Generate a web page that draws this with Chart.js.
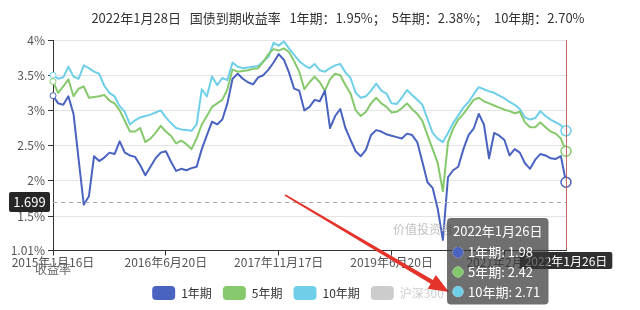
<!DOCTYPE html>
<html><head><meta charset="utf-8">
<script src="https://cdn.jsdelivr.net/npm/chart.js@4/dist/chart.umd.min.js"></script>
<style>html,body{margin:0;padding:0;background:#fff;}#wrap{width:640px;height:310px;position:relative;}</style>
</head><body><div id="wrap"><canvas id="c" width="640" height="310"></canvas></div>
<script>
const FONT = '"Noto Sans CJK SC", "Noto Sans", sans-serif';
const titleDate = '2022年1月28日';
const titleName = '国债到期收益率';
const seriesNames = ['1年期', '5年期', '10年期', '沪深300'];
const titleYields = [1.95, 2.38, 2.70];
const anchorDates = ['2015-01-16', '2016-06-20', '2017-11-17', '2019-06-20', '2021-02-08', '2022-01-26'];
const anchorIndex = [0, 22, 44, 66, 88, 100];
const labelEvery = 22;
const yTickValues = [1.01, 1.5, 2, 2.5, 3, 3.5, 4];
const yMin = 1.01, yMax = 4;
const pointerY = 1.699;
const watermark = '价值投资者';
const yAxisName = '收益率';

const y1 = [3.21,3.10,3.08,3.20,2.95,2.30,1.66,1.78,2.35,2.28,
 2.33,2.40,2.38,2.56,2.40,2.36,2.34,2.22,2.08,2.20,
 2.32,2.40,2.42,2.27,2.14,2.17,2.15,2.18,2.20,2.45,
 2.65,2.84,2.80,2.87,3.10,3.45,3.52,3.45,3.40,3.37,
 3.47,3.50,3.58,3.68,3.80,3.72,3.54,3.31,3.28,3.00,
 3.05,3.15,3.13,3.28,2.75,2.92,3.02,2.75,2.58,2.42,
 2.35,2.44,2.65,2.72,2.70,2.66,2.64,2.62,2.60,2.67,
 2.65,2.55,2.27,1.98,1.90,1.60,1.16,2.05,2.15,2.20,
 2.45,2.65,2.74,2.95,2.80,2.32,2.68,2.64,2.58,2.36,
 2.45,2.40,2.25,2.17,2.30,2.38,2.36,2.32,2.31,2.35,1.98];
const y5 = [3.41,3.25,3.34,3.44,3.20,3.31,3.34,3.18,3.19,3.20,
 3.22,3.14,3.10,3.00,2.85,2.70,2.70,2.75,2.55,2.60,
 2.68,2.78,2.70,2.64,2.53,2.57,2.52,2.45,2.60,2.80,
 2.92,3.05,3.10,3.15,3.30,3.58,3.55,3.56,3.57,3.59,
 3.60,3.69,3.80,3.87,3.85,3.88,3.83,3.70,3.55,3.30,
 3.40,3.48,3.40,3.28,3.44,3.52,3.50,3.36,3.24,3.00,
 2.92,2.98,3.10,3.18,3.10,3.05,2.97,2.98,3.03,3.10,
 3.02,2.95,2.85,2.65,2.45,2.25,1.85,2.55,2.74,2.87,
 2.95,3.05,3.15,3.18,3.13,3.10,3.07,3.04,3.01,2.99,
 2.96,2.98,2.83,2.76,2.76,2.83,2.76,2.70,2.67,2.60,2.42];
const y10 = [3.50,3.45,3.47,3.62,3.48,3.45,3.64,3.60,3.55,3.52,
 3.35,3.25,3.20,3.06,2.98,2.80,2.86,2.90,2.92,2.94,
 2.97,3.00,2.90,2.82,2.75,2.73,2.72,2.71,2.80,3.30,
 3.20,3.48,3.36,3.46,3.43,3.68,3.62,3.60,3.61,3.62,
 3.63,3.70,3.76,3.96,3.92,3.98,3.88,3.79,3.70,3.64,
 3.60,3.66,3.57,3.55,3.60,3.64,3.66,3.54,3.46,3.25,
 3.18,3.20,3.28,3.38,3.28,3.24,3.10,3.09,3.18,3.29,
 3.22,3.15,3.08,2.88,2.68,2.60,2.55,2.68,2.82,2.93,
 3.04,3.12,3.23,3.33,3.30,3.27,3.25,3.21,3.17,3.12,
 3.08,3.02,2.90,2.87,2.89,2.99,2.92,2.87,2.83,2.79,2.71];
const seriesColors = ['#4a62c0', '#86c96c', '#6fcfe9', '#cccccc'];

// category labels: dates between the anchor dates
function fmt(d){ return d.getUTCFullYear() + '年' + (d.getUTCMonth()+1) + '月' + d.getUTCDate() + '日'; }
function parse(s){ const p = s.split('-').map(Number); return Date.UTC(p[0], p[1]-1, p[2]); }
const labels = [];
for (let a = 0; a < anchorIndex.length - 1; a++) {
  const i0 = anchorIndex[a], i1 = anchorIndex[a+1];
  const t0 = parse(anchorDates[a]), t1 = parse(anchorDates[a+1]);
  for (let i = i0; i < i1; i++) {
    const t = t0 + (t1 - t0) * (i - i0) / (i1 - i0);
    labels.push(fmt(new Date(Math.round(t / 86400000) * 86400000)));
  }
}
labels.push(fmt(new Date(parse(anchorDates[anchorDates.length-1]))));
const lastIdx = labels.length - 1;

const titleText = titleDate + '   ' + titleName + '   ' +
  seriesNames.slice(0,3).map((n,i) => n + '：' + titleYields[i].toFixed(2) + '%').join('；  ');

(Chart.Tooltip || Chart.registry.getPlugin('tooltip')).positioners.fixedPos = function(){ return {x: 451, y: 218}; };

function mk(i, data, hidden){
  const c = seriesColors[i];
  return {label: seriesNames[i], data: data, hidden: !!hidden, borderColor: c, backgroundColor: c,
    borderWidth: 2, tension: 0, fill: false, borderJoinStyle: 'round',
    pointRadius: ctx => ctx.dataIndex === 0 ? 3 : 0, pointBackgroundColor: '#fff', pointBorderColor: c, pointBorderWidth: 1,
    pointHoverRadius: 5, pointHoverBorderWidth: 1.5, pointHoverBackgroundColor: 'rgba(255,255,255,0.85)', pointHoverBorderColor: c};
}

function rr(ctx, x, y, w, h, r){ ctx.beginPath(); ctx.moveTo(x+r,y); ctx.arcTo(x+w,y,x+w,y+h,r); ctx.arcTo(x+w,y+h,x,y+h,r); ctx.arcTo(x,y+h,x,y,r); ctx.arcTo(x,y,x+w,y,r); ctx.closePath(); }

const overlay = {
  id: 'overlay',
  afterDatasetsDraw(chart){
    const ctx = chart.ctx, a = chart.chartArea, xs = chart.scales.x, ys = chart.scales.y;
    ctx.save();
    // title
    ctx.font = '13px ' + FONT; ctx.fillStyle = '#333'; ctx.textAlign = 'center'; ctx.textBaseline = 'middle';
    ctx.fillText(titleText, 338, 18);
    // y pointer dashed line
    const py = ys.getPixelForValue(pointerY);
    ctx.setLineDash([4,4]); ctx.strokeStyle = '#aaa'; ctx.lineWidth = 1;
    ctx.beginPath(); ctx.moveTo(a.left, Math.round(py)+0.5); ctx.lineTo(a.right, Math.round(py)+0.5); ctx.stroke();
    ctx.setLineDash([]);
    // x pointer vertical line
    const px = xs.getPixelForValue(lastIdx);
    ctx.strokeStyle = 'rgba(185,90,90,0.9)'; ctx.beginPath(); ctx.moveTo(Math.round(px)+0.5, a.top); ctx.lineTo(Math.round(px)+0.5, a.bottom); ctx.stroke();
    // watermark
    ctx.font = '12px ' + FONT; ctx.fillStyle = '#c2c2c2'; ctx.textAlign = 'left';
    ctx.fillText(watermark, 393, 229);
    // y axis name
    ctx.fillStyle = '#666'; ctx.textAlign = 'center';
    ctx.fillText(yAxisName, a.left, 269);
    // y pointer label
    ctx.fillStyle = 'rgba(20,20,20,0.92)'; rr(ctx, 9, py-10, 41, 20, 2); ctx.fill();
    ctx.fillStyle = '#fff'; ctx.font = '13px ' + FONT; ctx.fillText(pointerY.toFixed(3), 29.5, py+0.5);
    // x pointer label
    ctx.font = '12px ' + FONT;
    const lt = labels[lastIdx]; const tw = ctx.measureText(lt).width + 10;
    ctx.fillStyle = 'rgba(30,30,30,0.92)'; rr(ctx, px - tw/2, 252, tw, 17, 2); ctx.fill();
    ctx.fillStyle = '#fff'; ctx.fillText(lt, px, 261);
    // red arrow
    const sx = 285, sy = 195, ex = 449, ey = 292;
    const L = Math.hypot(ex-sx, ey-sy), dx = (ex-sx)/L, dy = (ey-sy)/L, nx = -dy, ny = dx;
    const hl = 20, hw = 8, bx = ex - dx*hl, by = ey - dy*hl;
    ctx.fillStyle = '#e3332b';
    ctx.beginPath();
    ctx.moveTo(sx + nx*0.8, sy + ny*0.8);
    ctx.lineTo(bx + nx*2.2, by + ny*2.2);
    ctx.lineTo(bx + nx*hw, by + ny*hw);
    ctx.lineTo(ex, ey);
    ctx.lineTo(bx - nx*hw, by - ny*hw);
    ctx.lineTo(bx - nx*2.2, by - ny*2.2);
    ctx.lineTo(sx - nx*0.8, sy - ny*0.8);
    ctx.closePath(); ctx.fill();
    ctx.restore();
  }
};

const chart = new Chart(document.getElementById('c'), {
  type: 'line',
  data: { labels: labels, datasets: [mk(0, y1), mk(1, y5), mk(2, y10), mk(3, [], true)] },
  options: {
    responsive: false, animation: false, events: [],
    layout: { padding: { left: 0, right: 44, top: 40, bottom: 0 } },
    scales: {
      x: { type: 'category', offset: false,
        afterBuildTicks: s => { s.ticks = s.ticks.filter(t => t.value % labelEvery === 0 && t.value < lastIdx); },
        afterFit: s => { s.height = 24.5; },
        grid: { drawOnChartArea: false, drawTicks: true, tickLength: 5, tickColor: '#333' },
        border: { color: '#333', width: 1 },
        ticks: { autoSkip: false, maxRotation: 0, minRotation: 0, color: '#555', padding: 0, font: { size: 12, family: FONT },
          callback: function(v){ return this.getLabelForValue(v); } } },
      y: { min: yMin, max: yMax,
        afterBuildTicks: s => { s.ticks = yTickValues.map(v => ({ value: v })); },
        afterFit: s => { s.width = 53; },
        grid: { color: '#e4e4e4', tickColor: '#333', tickLength: 5 },
        border: { color: '#333', width: 1 },
        ticks: { color: '#555', padding: 3, font: { size: 12, family: FONT }, callback: v => v + '%' } },
      yR: { position: 'right', display: true, grid: { display: false }, border: { display: false },
        ticks: { display: false }, afterFit: s => { s.width = 30; } }
    },
    plugins: {
      title: { display: false },
      legend: { position: 'bottom', align: 'center',
        labels: { boxWidth: 23, boxHeight: 14, useBorderRadius: true, borderRadius: 4, padding: 11, color: '#333',
          font: { size: 12, family: FONT },
          generateLabels: ch => ch.data.datasets.map((d, i) => ({ text: d.label, fillStyle: d.borderColor,
            strokeStyle: d.borderColor, lineWidth: 0, hidden: false, datasetIndex: i, borderRadius: 4,
            fontColor: d.hidden ? '#cccccc' : '#333' })) } },
      tooltip: { enabled: true, animation: false, position: 'fixedPos', xAlign: 'left', yAlign: 'top',
        caretSize: 0, caretPadding: 0, cornerRadius: 4, backgroundColor: 'rgba(55,55,55,0.72)',
        titleColor: '#fff', bodyColor: '#fff', titleFont: { size: 13, weight: 'normal', family: FONT },
        bodyFont: { size: 13, family: FONT }, padding: { left: 6, right: 6, top: 5, bottom: 5 },
        titleMarginBottom: 6, bodySpacing: 4, boxWidth: 10, boxHeight: 10, boxPadding: 3, usePointStyle: true,
        filter: it => it.datasetIndex < 3,
        callbacks: {
          labelColor: c => ({ borderColor: c.dataset.borderColor, backgroundColor: c.dataset.borderColor }),
          labelPointStyle: () => ({ pointStyle: 'circle', rotation: 0 })
        } }
    }
  },
  plugins: [overlay]
});

const act = [0, 1, 2].map(i => ({ datasetIndex: i, index: lastIdx }));
chart.setActiveElements(act);
chart.tooltip.setActiveElements(act, { x: chart.scales.x.getPixelForValue(lastIdx), y: 150 });
chart.update();
</script></body></html>
